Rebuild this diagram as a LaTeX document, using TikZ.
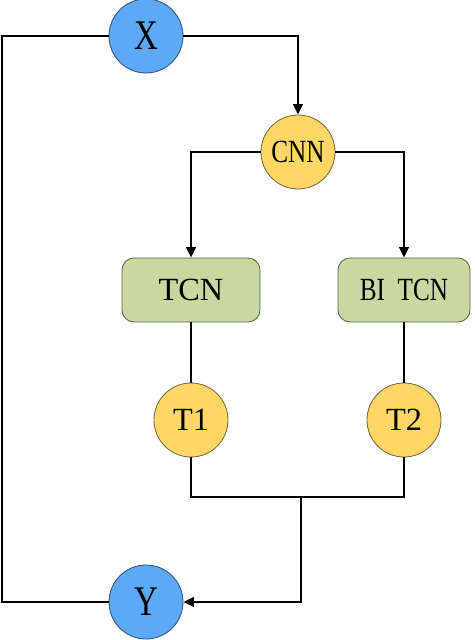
\documentclass[tikz,border=0pt]{standalone}
\usepackage{fontspec}
\setmainfont{Liberation Serif}
\usetikzlibrary{arrows.meta}
\usetikzlibrary{positioning}

\definecolor{ioblue}{RGB}{93,169,246}
\definecolor{ioborder}{RGB}{52,82,120}
\definecolor{opyellow}{RGB}{255,215,102}
\definecolor{opborder}{RGB}{120,105,60}
\definecolor{tcngreen}{RGB}{200,216,160}
\definecolor{tcnborder}{RGB}{90,100,70}

\newcommand{\narrowtext}[1]{\scalebox{0.78}[1]{#1}}

\tikzset{
    iocircle/.style = {circle, draw = ioborder, line width = 0.6pt, fill = ioblue,
        minimum size = 18.5mm, inner sep = 0pt, font = \fontsize{30}{34}\selectfont},
    opcircle/.style = {circle, draw = opborder, line width = 0.6pt, fill = opyellow,
        minimum size = 18.5mm, inner sep = 0pt, font = \fontsize{23}{26}\selectfont},
    tcnbox/.style = {rectangle, rounded corners = 3mm, draw = tcnborder, line width = 0.6pt,
        fill = tcngreen, minimum height = 16mm, inner sep = 0pt, font = \fontsize{23}{26}\selectfont},
    link/.style = {line width = 1.3pt},
}

\begin{document}
\begin{tikzpicture}
    [   x = 0.25mm, y = -0.25mm
    ,   > = {Triangle[length = 2.6mm, width = 2.4mm]}
    ]
    \useasboundingbox (0,0) rectangle (474,640);

    \node[iocircle] (X) at (146,36) {\narrowtext{X}};
    \node[opcircle] (cnn) at (298,152) {\narrowtext{CNN}};
    \node[tcnbox, minimum width = 34.5mm] (tcn) at (191,290) {TCN};
    \node[tcnbox, minimum width = 33mm] (bitcn) at (404,290) {\narrowtext{BI\ \ TCN}};
    \node[opcircle] (t1) at (191,420) {T1};
    \node[opcircle] (t2) at (404,420) {T2};
    \node[iocircle] (Y) at (146,602) {\narrowtext{Y}};

    \coordinate (rail) at (2,0);
    \coordinate (merge) at (301,497);

    \draw[link, ->] (X.east) -| (cnn.north);
    \draw[link, ->] (cnn.west) -| (tcn.north);
    \draw[link, ->] (cnn.east) -| (bitcn.north);
    \draw[link] (tcn.south) -- (t1.north);
    \draw[link] (bitcn.south) -- (t2.north);
    \draw[link] (t1.south) |- (merge) -| (t2.south);
    \draw[link, ->] (merge) |- (Y.east);
    \draw[link] (X.west) -- (X.west -| rail) -- (Y.west -| rail) -- (Y.west);
\end{tikzpicture}
\end{document}
